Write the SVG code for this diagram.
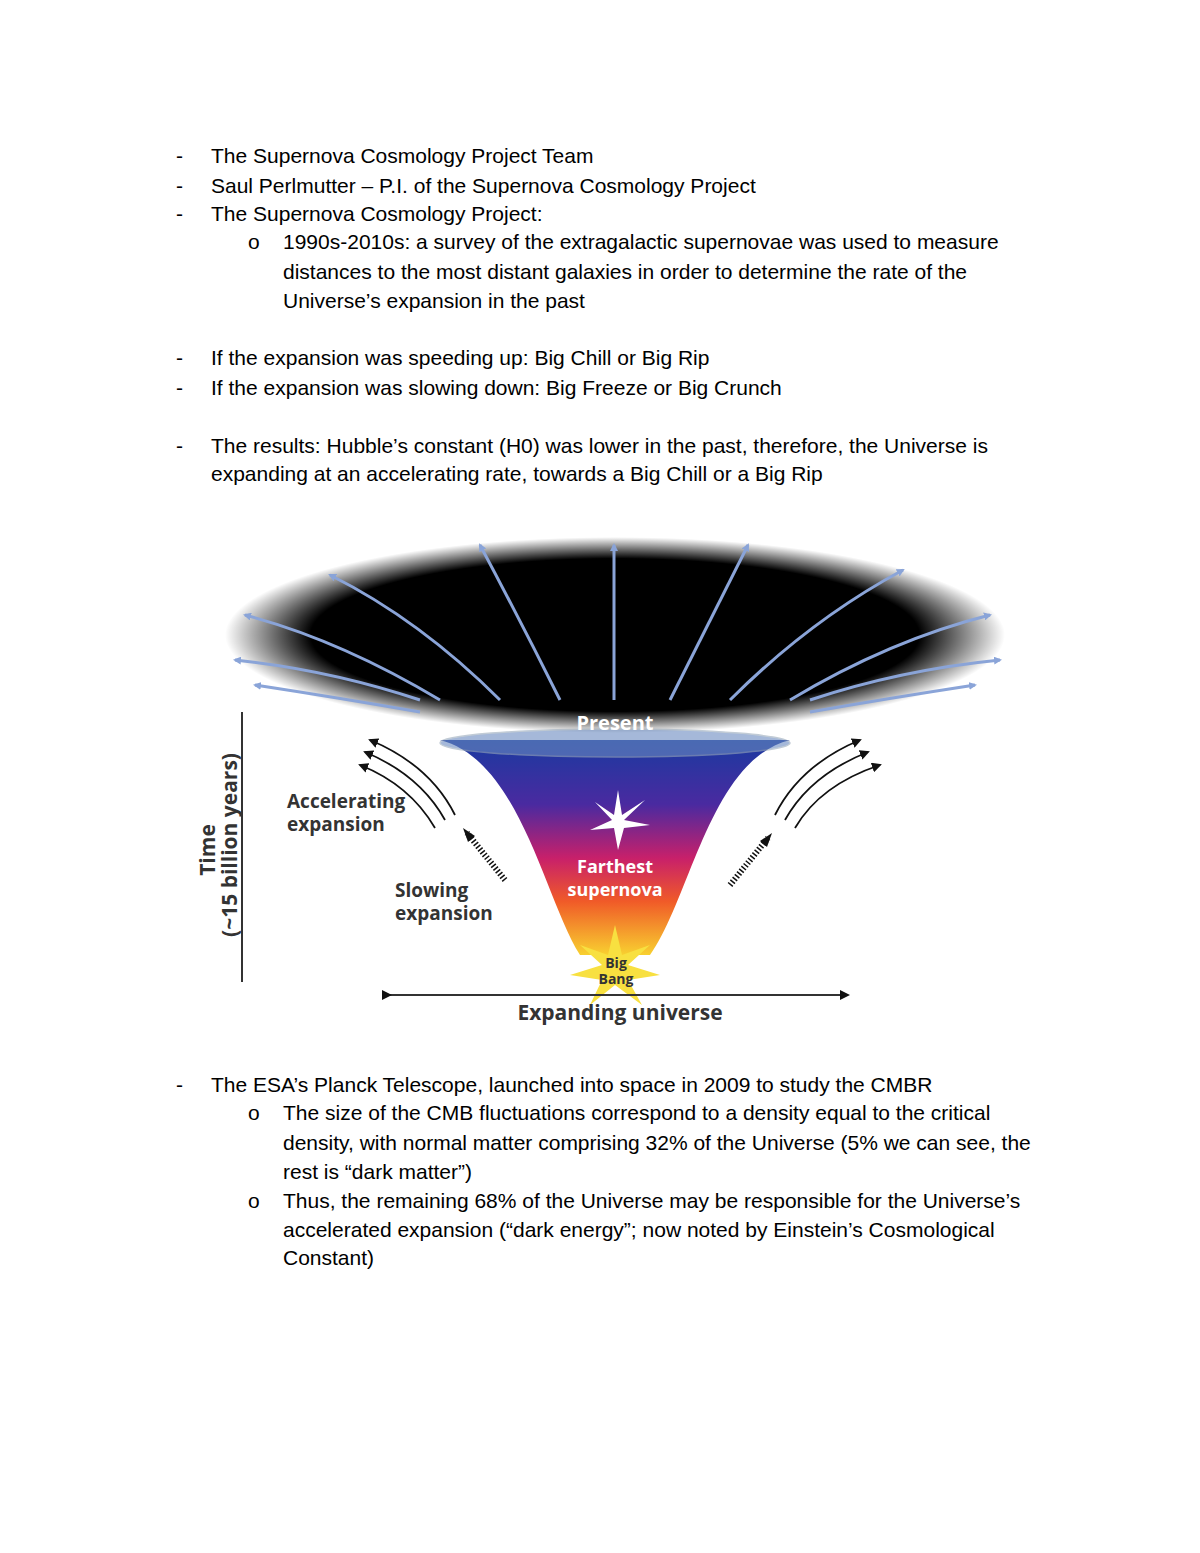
<svg xmlns="http://www.w3.org/2000/svg" width="1200" height="1553" viewBox="0 0 1200 1553">
<style>
.t{font-family:"Liberation Sans",Arial,sans-serif;font-size:21px;fill:#000}
.f{font-family:"Open Sans","DejaVu Sans",sans-serif;font-weight:bold;fill:#333}
.w{font-family:"Open Sans","DejaVu Sans",sans-serif;font-weight:bold;fill:#fff}
.ar{stroke:#8aa4d8;stroke-width:3;fill:none;marker-end:url(#ba)}
.ka{stroke:#111;stroke-width:1.8;fill:none;marker-end:url(#ka)}
</style>
<defs>
<marker id="ba" markerWidth="8" markerHeight="8" refX="6" refY="4" orient="auto" markerUnits="userSpaceOnUse" viewBox="0 0 8 8"><path d="M0,0 L8,4 L0,8z" fill="#8aa4d8"/></marker>
<marker id="ka" markerWidth="10" markerHeight="10" refX="8" refY="5" orient="auto" markerUnits="userSpaceOnUse" viewBox="0 0 10 10"><path d="M0,0 L10,5 L0,10z" fill="#111"/></marker>
<radialGradient id="bh" cx="0.5" cy="0.5" r="0.5"><stop offset="0.78" stop-color="#000"/><stop offset="1" stop-color="#000" stop-opacity="0"/></radialGradient>
<linearGradient id="cone" x1="0" y1="0" x2="0" y2="1"><stop offset="0" stop-color="#1a3aa0"/><stop offset="0.3" stop-color="#4a2aa0"/><stop offset="0.55" stop-color="#c8206a"/><stop offset="0.75" stop-color="#f05a28"/><stop offset="1" stop-color="#f8d030"/></linearGradient>
</defs>
<g id="text-top">
<text class="t" x="176" y="163">-</text><text class="t" x="211" y="163">The Supernova Cosmology Project Team</text>
<text class="t" x="176" y="193">-</text><text class="t" x="211" y="193">Saul Perlmutter – P.I. of the Supernova Cosmology Project</text>
<text class="t" x="176" y="221">-</text><text class="t" x="211" y="221">The Supernova Cosmology Project:</text>
<text class="t" x="248" y="249">o</text><text class="t" x="283" y="249">1990s-2010s: a survey of the extragalactic supernovae was used to measure</text>
<text class="t" x="283" y="279">distances to the most distant galaxies in order to determine the rate of the</text>
<text class="t" x="283" y="308">Universe’s expansion in the past</text>
<text class="t" x="176" y="365">-</text><text class="t" x="211" y="365">If the expansion was speeding up: Big Chill or Big Rip</text>
<text class="t" x="176" y="395">-</text><text class="t" x="211" y="395">If the expansion was slowing down: Big Freeze or Big Crunch</text>
<text class="t" x="176" y="453">-</text><text class="t" x="211" y="453">The results: Hubble’s constant (H0) was lower in the past, therefore, the Universe is</text>
<text class="t" x="211" y="481">expanding at an accelerating rate, towards a Big Chill or a Big Rip</text>
</g>
<g id="figure">
<ellipse cx="615" cy="635" rx="390" ry="98" fill="url(#bh)"/>
<path d="M440,740 C520,760 545,900 580,955 L650,955 C690,900 710,760 790,740 Z" fill="url(#cone)"/>
<ellipse cx="615" cy="743" rx="175" ry="14" fill="#6a8ac0" opacity="0.6" stroke="#9ab" stroke-width="1.5"/>
<polygon points="615,925 622,955 650,945 628,965 660,975 628,980 642,1005 615,985 590,1005 602,980 570,975 602,965 580,945 608,955" fill="#f8e040"/>
<text class="f" x="616" y="968" font-size="14" text-anchor="middle">Big</text>
<text class="f" x="616" y="984" font-size="14" text-anchor="middle">Bang</text>
<polygon points="618,790 622,815 645,800 624,820 650,825 624,828 618,850 614,828 590,830 612,820 595,802 614,815" fill="#fff"/>
<text class="w" x="615" y="730" font-size="20" text-anchor="middle">Present</text>
<text class="w" x="615" y="873" font-size="18" text-anchor="middle">Farthest</text>
<text class="w" x="615" y="896" font-size="18" text-anchor="middle">supernova</text>
<path class="ar" d="M560,700 Q520,620 480,545"/>
<path class="ar" d="M614,700 L614,545"/>
<path class="ar" d="M670,700 Q710,620 748,545"/>
<path class="ar" d="M500,700 Q420,620 330,575"/>
<path class="ar" d="M730,700 Q810,620 903,570"/>
<path class="ar" d="M440,700 Q340,640 245,615"/>
<path class="ar" d="M790,700 Q890,640 990,615"/>
<path class="ar" d="M420,700 Q330,670 235,660"/>
<path class="ar" d="M810,700 Q900,670 1000,660"/>
<path class="ar" d="M420,712 Q340,698 255,685"/>
<path class="ar" d="M810,712 Q890,698 975,685"/>
<path class="ka" d="M455,815 Q430,765 370,740"/>
<path class="ka" d="M445,820 Q420,775 365,752"/>
<path class="ka" d="M435,828 Q410,785 360,765"/>
<path class="ka" d="M775,815 Q800,765 860,740"/>
<path class="ka" d="M785,820 Q810,775 868,752"/>
<path class="ka" d="M795,828 Q820,785 880,765"/>
<path d="M505,880 L467,833" stroke="#111" stroke-width="6" stroke-dasharray="1.5 2" fill="none"/>
<polygon points="463,828 475,836 468,842" fill="#111"/>
<path d="M730,885 L768,838" stroke="#111" stroke-width="6" stroke-dasharray="1.5 2" fill="none"/>
<polygon points="772,833 760,841 767,847" fill="#111"/>
<text class="f" x="287" y="808" font-size="19">Accelerating</text>
<text class="f" x="287" y="831" font-size="19">expansion</text>
<text class="f" x="395" y="897" font-size="19">Slowing</text>
<text class="f" x="395" y="920" font-size="19">expansion</text>
<line x1="242" y1="712" x2="242" y2="982" stroke="#333" stroke-width="2"/>
<text class="f" font-size="21" text-anchor="middle" transform="translate(215,850) rotate(-90)">Time</text>
<text class="f" font-size="21" text-anchor="middle" transform="translate(237,845) rotate(-90)">(~15 billion years)</text>
<line x1="390" y1="995" x2="848" y2="995" stroke="#333" stroke-width="2" marker-start="url(#ka)" marker-end="url(#ka)"/>
<text class="f" x="620" y="1020" font-size="21" text-anchor="middle">Expanding universe</text>
</g>
<g id="text-bottom">
<text class="t" x="176" y="1092">-</text><text class="t" x="211" y="1092">The ESA’s Planck Telescope, launched into space in 2009 to study the CMBR</text>
<text class="t" x="248" y="1120">o</text><text class="t" x="283" y="1120">The size of the CMB fluctuations correspond to a density equal to the critical</text>
<text class="t" x="283" y="1150">density, with normal matter comprising 32% of the Universe (5% we can see, the</text>
<text class="t" x="283" y="1179">rest is “dark matter”)</text>
<text class="t" x="248" y="1208">o</text><text class="t" x="283" y="1208">Thus, the remaining 68% of the Universe may be responsible for the Universe’s</text>
<text class="t" x="283" y="1237">accelerated expansion (“dark energy”; now noted by Einstein’s Cosmological</text>
<text class="t" x="283" y="1265">Constant)</text>
</g>
</svg>
